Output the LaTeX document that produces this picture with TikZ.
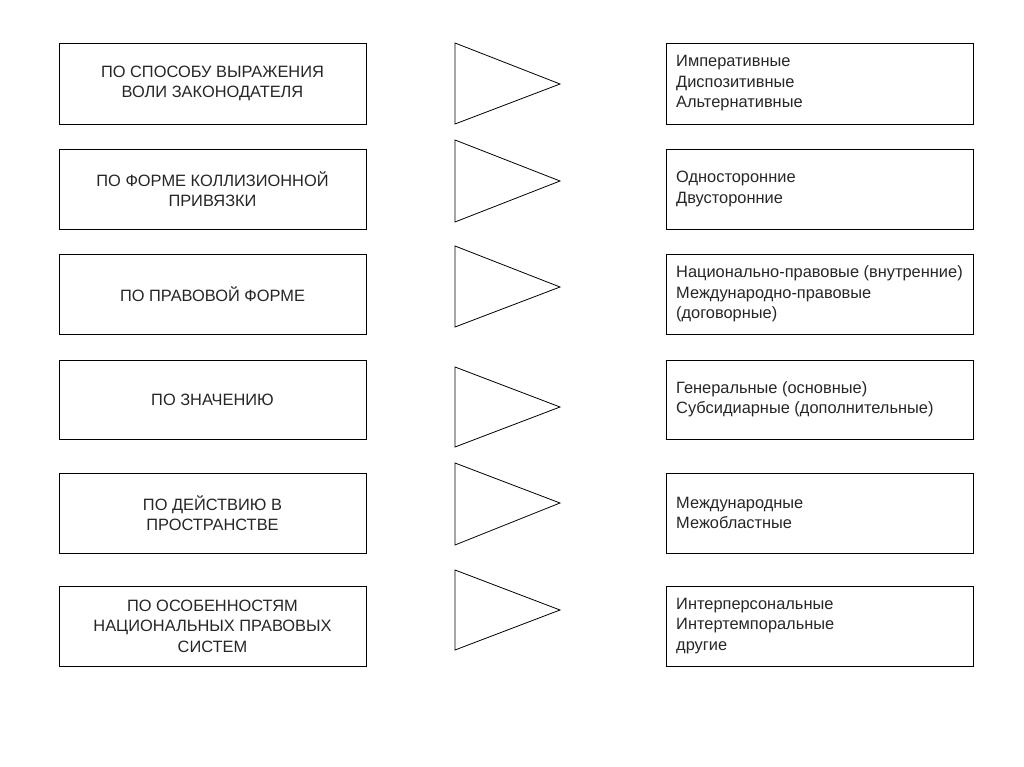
\documentclass[tikz,border=0pt]{standalone}
\usepackage{fontspec}
\setmainfont{Liberation Sans}
\begin{document}
\begin{tikzpicture}[x=1pt,y=-1pt,
  box/.style={draw,line width=0.8pt},
  tri/.style={draw,line width=0.8pt},
  ltext/.style={align=center,font=\fontsize{16.4}{20.5}\selectfont,inner sep=0,text=black!85},
  rtext/.style={align=left,anchor=west,font=\fontsize{16.4}{20.5}\selectfont,inner sep=0,text=black!85}]
\useasboundingbox (0,0) rectangle (1024,767);
\def\rows{43/124/43/124/84/{ПО СПОСОБУ ВЫРАЖЕНИЯ\\ВОЛИ ЗАКОНОДАТЕЛЯ}/{Императивные\\Диспозитивные\\Альтернативные},
149/229/140/222/181/{ПО ФОРМЕ КОЛЛИЗИОННОЙ\\ПРИВЯЗКИ}/{Односторонние\\Двусторонние},
254/334/246/327/287/{ПО ПРАВОВОЙ ФОРМЕ}/{Национально-правовые (внутренние)\\Международно-правовые\\(договорные)},
360/439/367/447/407/{ПО ЗНАЧЕНИЮ}/{Генеральные (основные)\\Субсидиарные (дополнительные)},
473/553/463/545/503/{ПО ДЕЙСТВИЮ В\\ПРОСТРАНСТВЕ}/{Международные\\Межобластные},
586/666/570/650/610/{ПО ОСОБЕННОСТЯМ\\НАЦИОНАЛЬНЫХ ПРАВОВЫХ\\СИСТЕМ}/{Интерперсональные\\Интертемпоральные\\другие}}
\foreach \t/\b/\tt/\tb/\tm/\L/\R [count=\i] in \rows {
  \draw[box] (59,\t) rectangle (366,\b);
  \draw[box] (666,\t) rectangle (973,\b);
  \draw[tri] (455,\tt) -- (560,\tm) -- (455,\tb) -- cycle;
  \node[ltext] (l\i) at (212.5,{(\t+\b)/2}) {\L};
  \node[rtext] (r\i) at (676,{(\t+\b)/2}) {\R};
}
\end{tikzpicture}
\end{document}
